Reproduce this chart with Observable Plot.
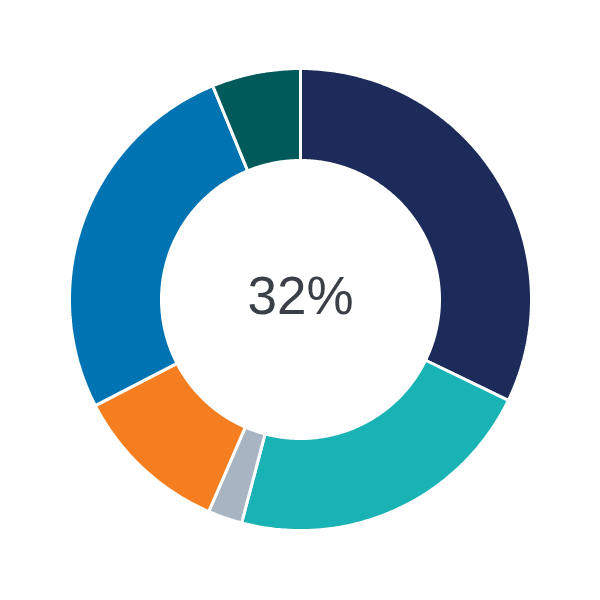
<!DOCTYPE html>
<html>
<head>
<meta charset="utf-8">
<script src="https://cdn.jsdelivr.net/npm/d3@7"></script>
<script src="https://cdn.jsdelivr.net/npm/@observablehq/plot@0.6"></script>
<style>
  html, body { margin: 0; padding: 0; background: #fff; }
  #chart { width: 600px; height: 600px; }
</style>
</head>
<body>
<div id="chart"></div>
<script>
const categories = ["A", "B", "C", "D", "E", "F"];
const values = [32.2, 21.9, 2.4, 10.9, 26.4, 6.2];
const colors = ["#1c2b5a", "#1ab3b5", "#a9b4c2", "#f47e20", "#0074b3", "#005a5a"];
const centerLabel = "32%";

const outerR = 1;
const innerR = 139 / 231;

const pie = d3.pie().sort(null).value(d => d.value);
const arcs = pie(categories.map((c, i) => ({ category: c, value: values[i] })));

function ring(a0, a1) {
  const n = Math.max(2, Math.ceil((a1 - a0) / 0.01));
  const outer = [], inner = [];
  for (let k = 0; k <= n; k++) {
    const a = a0 + (a1 - a0) * k / n;
    outer.push([outerR * Math.sin(a), outerR * Math.cos(a)]);
    inner.push([innerR * Math.sin(a), innerR * Math.cos(a)]);
  }
  const coords = outer.concat(inner.reverse());
  coords.push(coords[0]);
  return coords;
}

const features = arcs.map(a => ({
  type: "Feature",
  properties: { category: a.data.category },
  geometry: { type: "Polygon", coordinates: [ring(a.startAngle, a.endAngle)] }
}));

const plot = Plot.plot({
  width: 600,
  height: 600,
  margin: 0,
  projection: ({ width, height }) =>
    d3.geoIdentity().reflectY(true).scale(231).translate([300, 299]),
  color: { domain: categories, range: colors },
  marks: [
    Plot.geo(features, {
      fill: d => d.properties.category,
      stroke: "white",
      strokeWidth: 3,
      strokeLinejoin: "miter"
    }),
    Plot.text([centerLabel], {
      text: d => d,
      frameAnchor: "middle",
      fontSize: 53,
      fill: "#3a3f48",
      fontFamily: "Liberation Sans, Arial, sans-serif",
      dy: -3
    })
  ]
});
document.getElementById("chart").appendChild(plot);
</script>
</body>
</html>
